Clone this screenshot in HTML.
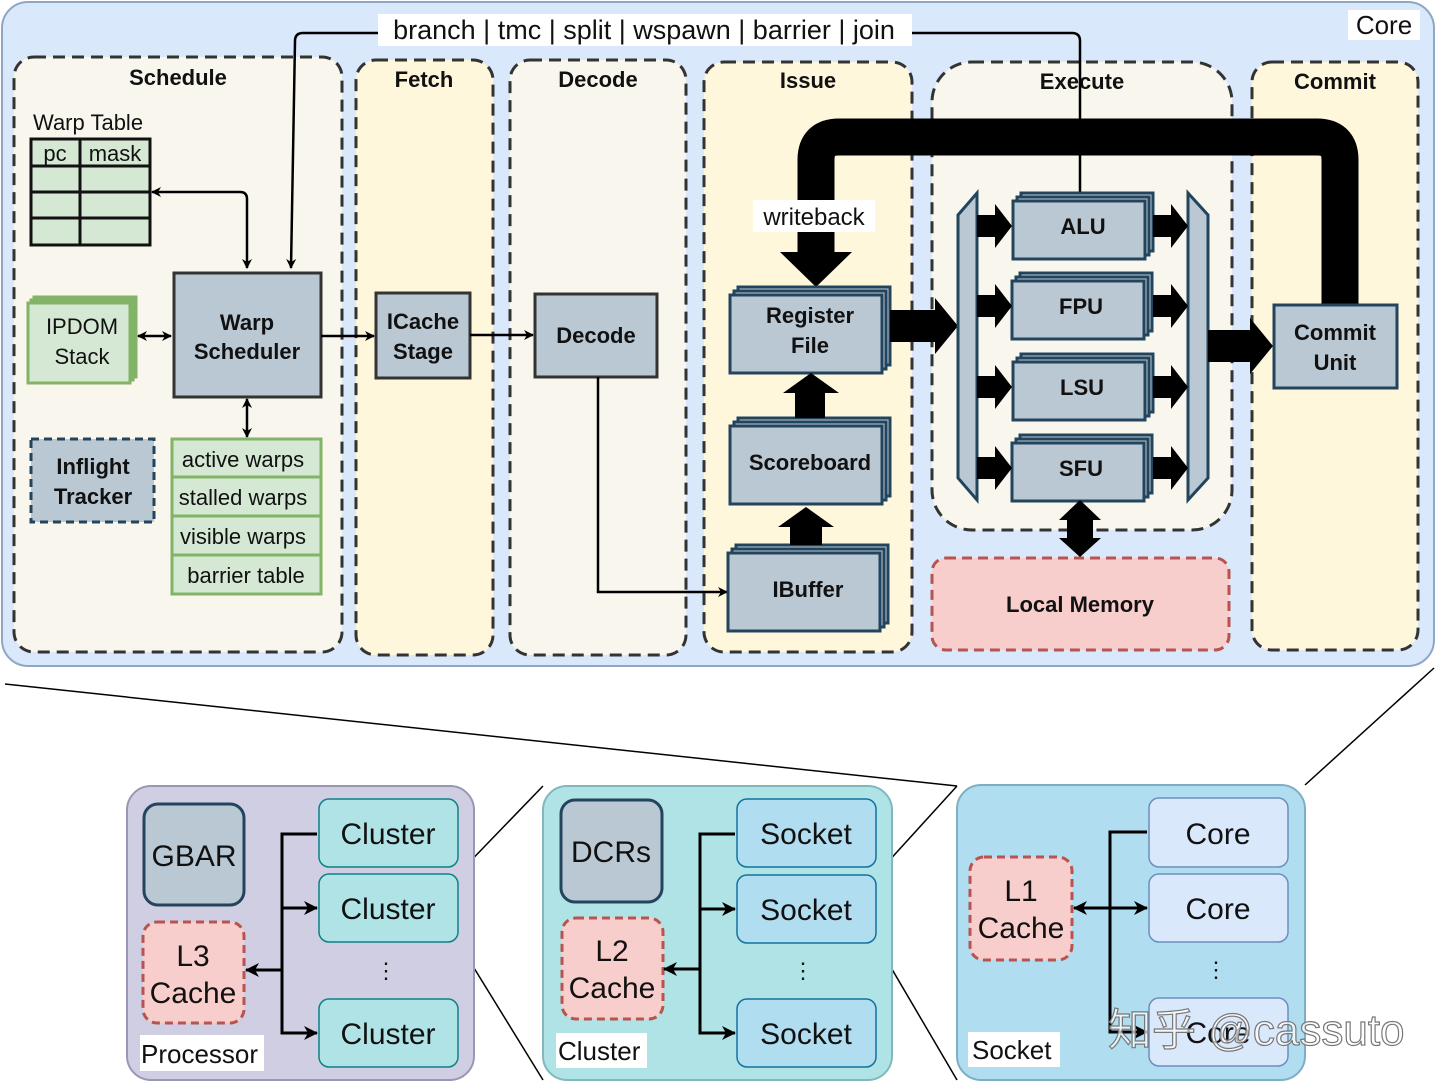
<!DOCTYPE html>
<html><head><meta charset="utf-8"><style>
html,body{margin:0;padding:0;background:#fff;}
svg{display:block;font-family:"Liberation Sans","Noto Sans CJK SC",sans-serif;}
.b{font-weight:bold;font-size:22px;fill:#111;}
.t{font-size:22px;fill:#111;}
.big{font-size:30px;fill:#111;}
</style></head><body>
<svg width="1440" height="1088" viewBox="0 0 1440 1088" xmlns="http://www.w3.org/2000/svg">
<defs>
<marker id="ah" markerWidth="10" markerHeight="10" refX="9" refY="5" orient="auto" markerUnits="userSpaceOnUse"><path d="M0,0 L10,5 L0,10 L3,5 z" fill="#000"/></marker>
<marker id="ahs" markerWidth="10" markerHeight="10" refX="1" refY="5" orient="auto" markerUnits="userSpaceOnUse"><path d="M10,0 L0,5 L10,10 L7,5 z" fill="#000"/></marker>
<marker id="bh" markerWidth="14" markerHeight="14" refX="13" refY="7" orient="auto" markerUnits="userSpaceOnUse"><path d="M0,0 L14,7 L0,14 L4,7 z" fill="#000"/></marker>
<marker id="bhs" markerWidth="14" markerHeight="14" refX="1" refY="7" orient="auto" markerUnits="userSpaceOnUse"><path d="M14,0 L0,7 L14,14 L10,7 z" fill="#000"/></marker>
</defs>
<!-- Core -->
<rect x="2" y="2" width="1432" height="664" rx="26" fill="#dae8fc" stroke="#8fa6c4" stroke-width="2"/>
<rect x="1348" y="10" width="72" height="30" fill="#fff"/>
<text x="1384" y="34" text-anchor="middle" style="font-size:26px" fill="#111">Core</text>

<!-- stages -->
<g stroke="#333" stroke-width="3" stroke-dasharray="12,7">
<rect x="14" y="57" width="328" height="595" rx="20" fill="#f9f7ed"/>
<rect x="356" y="60" width="137" height="595" rx="20" fill="#fff7dc"/>
<rect x="510" y="60" width="176" height="595" rx="20" fill="#f9f7ed"/>
<rect x="704" y="62" width="208" height="590" rx="20" fill="#fff7dc"/>
<rect x="932" y="62" width="300" height="468" rx="40" fill="#f9f7ed"/>
<rect x="1252" y="62" width="166" height="588" rx="20" fill="#fff7dc"/>
</g>
<g class="b" text-anchor="middle">
<text x="178" y="85">Schedule</text>
<text x="424" y="87">Fetch</text>
<text x="598" y="87">Decode</text>
<text x="808" y="88">Issue</text>
<text x="1082" y="89">Execute</text>
<text x="1335" y="89">Commit</text>
</g>

<!-- branch line -->
<path d="M378,33 L303,33 Q295,33 295,41 L291,268" fill="none" stroke="#000" stroke-width="2.5" marker-end="url(#ah)"/>
<path d="M912,33 L1072,33 Q1080,33 1080,41 L1080,193" fill="none" stroke="#000" stroke-width="2.5"/>
<rect x="378" y="14" width="534" height="32" fill="#fff"/>
<text x="644" y="39" style="font-size:27px" text-anchor="middle" fill="#111">branch | tmc | split | wspawn | barrier | join</text>

<!-- warp table -->
<text x="33" y="130" class="t">Warp Table</text>
<rect x="31" y="139" width="119" height="106" fill="#d5e8d4" stroke="#111" stroke-width="3"/>
<g stroke="#111" stroke-width="3">
<line x1="31" y1="166" x2="150" y2="166"/><line x1="31" y1="192" x2="150" y2="192"/><line x1="31" y1="218" x2="150" y2="218"/>
<line x1="80" y1="139" x2="80" y2="245"/>
</g>
<text x="55" y="161" class="t" text-anchor="middle">pc</text>
<text x="115" y="161" class="t" text-anchor="middle">mask</text>
<path d="M152,192 L240,192 Q247,192 247,199 L247,268" fill="none" stroke="#000" stroke-width="2.5" marker-start="url(#ahs)" marker-end="url(#ah)"/>

<!-- warp scheduler -->
<rect x="174" y="273" width="147" height="124" fill="#bac8d3" stroke="#333" stroke-width="3"/>
<text x="247" y="330" class="b" text-anchor="middle">Warp</text>
<text x="247" y="359" class="b" text-anchor="middle">Scheduler</text>

<!-- IPDOM -->
<g fill="#d5e8d4" stroke="#82b366" stroke-width="3">
<rect x="34" y="297" width="102" height="80"/>
<rect x="31" y="300" width="102" height="80"/>
<rect x="28" y="303" width="102" height="80"/>
</g>
<text x="82" y="334" class="t" text-anchor="middle">IPDOM</text>
<text x="82" y="364" class="t" text-anchor="middle">Stack</text>
<line x1="138" y1="336" x2="171" y2="336" stroke="#000" stroke-width="2.5" marker-start="url(#ahs)" marker-end="url(#ah)"/>
<line x1="321" y1="336" x2="374" y2="336" stroke="#000" stroke-width="2.5" marker-end="url(#ah)"/>
<line x1="247" y1="399" x2="247" y2="437" stroke="#000" stroke-width="2.5" marker-start="url(#ahs)" marker-end="url(#ah)"/>

<!-- status list -->
<g fill="#d5e8d4" stroke="#82b366" stroke-width="3">
<rect x="172" y="439" width="149" height="38"/><rect x="172" y="477" width="149" height="39"/>
<rect x="172" y="516" width="149" height="39"/><rect x="172" y="555" width="149" height="39"/>
</g>
<g class="t" text-anchor="middle">
<text x="243" y="467">active warps</text><text x="243" y="505">stalled warps</text>
<text x="243" y="544">visible warps</text><text x="246" y="583">barrier table</text>
</g>

<!-- inflight -->
<rect x="31" y="439" width="123" height="83" fill="#bac8d3" stroke="#23445d" stroke-width="3" stroke-dasharray="8,5"/>
<text x="93" y="474" class="b" text-anchor="middle">Inflight</text>
<text x="93" y="504" class="b" text-anchor="middle">Tracker</text>

<!-- icache -->
<rect x="376" y="293" width="94" height="85" fill="#bac8d3" stroke="#333" stroke-width="3"/>
<text x="423" y="329" class="b" text-anchor="middle">ICache</text>
<text x="423" y="359" class="b" text-anchor="middle">Stage</text>
<line x1="470" y1="335" x2="533" y2="335" stroke="#000" stroke-width="2.5" marker-end="url(#ah)"/>

<!-- decode -->
<rect x="535" y="294" width="122" height="83" fill="#bac8d3" stroke="#333" stroke-width="3"/>
<text x="596" y="343" class="b" text-anchor="middle">Decode</text>
<path d="M598,377 L598,592 L727,592" fill="none" stroke="#000" stroke-width="2.5" marker-end="url(#ah)"/>

<!-- writeback bus -->
<path d="M816,255 L816,160 Q816,137 839,137 L1317,137 Q1340,137 1340,160 L1340,304" fill="none" stroke="#000" stroke-width="37"/>
<polygon points="780,252 852,252 816,287" fill="#000"/>
<rect x="753" y="200" width="122" height="32" fill="#fff"/>
<text x="814" y="225" class="t" text-anchor="middle" style="font-size:24px">writeback</text>

<!-- issue stacked boxes -->
<g fill="#bac8d3" stroke="#23445d" stroke-width="3">
<rect x="738" y="287" width="152" height="78"/><rect x="734" y="291" width="152" height="78"/><rect x="730" y="295" width="152" height="78"/>
<rect x="738" y="418" width="152" height="78"/><rect x="734" y="422" width="152" height="78"/><rect x="730" y="426" width="152" height="78"/>
<rect x="736" y="545" width="152" height="78"/><rect x="732" y="549" width="152" height="78"/><rect x="728" y="553" width="152" height="78"/>
</g>
<g class="b" text-anchor="middle">
<text x="810" y="323">Register</text><text x="810" y="353">File</text>
<text x="810" y="470">Scoreboard</text>
<text x="808" y="597">IBuffer</text>
</g>
<polygon points="795,418 795,393 783,393 811,373 839,393 825,393 825,418" fill="#000"/>
<polygon points="790,545 790,527 778,527 806,507 834,527 822,527 822,545" fill="#000"/>

<!-- reg -> mux -->
<polygon points="890,310 935,310 935,298 958,326 935,354 935,342 890,342" fill="#000"/>

<!-- muxes -->
<polygon points="958,215 977,193 977,500 958,478" fill="#bac8d3" stroke="#23445d" stroke-width="3"/>
<polygon points="1188,193 1208,215 1208,478 1188,500" fill="#bac8d3" stroke="#23445d" stroke-width="3"/>

<!-- units -->
<g fill="#bac8d3" stroke="#23445d" stroke-width="3">
<rect x="1021" y="193" width="132" height="58"/><rect x="1017" y="197" width="132" height="58"/><rect x="1013" y="201" width="132" height="58"/>
<rect x="1020" y="273" width="132" height="58"/><rect x="1016" y="277" width="132" height="58"/><rect x="1012" y="281" width="132" height="58"/>
<rect x="1021" y="354" width="132" height="58"/><rect x="1017" y="358" width="132" height="58"/><rect x="1013" y="362" width="132" height="58"/>
<rect x="1020" y="435" width="132" height="58"/><rect x="1016" y="439" width="132" height="58"/><rect x="1012" y="443" width="132" height="58"/>
</g>
<g class="b" text-anchor="middle">
<text x="1083" y="234">ALU</text><text x="1081" y="314">FPU</text><text x="1082" y="395">LSU</text><text x="1081" y="476">SFU</text>
</g>
<g fill="#000">
<polygon points="977,215 995,215 995,204 1012,226 995,248 995,237 977,237"/>
<polygon points="977,295 995,295 995,284 1012,306 995,328 995,317 977,317"/>
<polygon points="977,376 995,376 995,365 1012,387 995,409 995,398 977,398"/>
<polygon points="977,457 995,457 995,446 1012,468 995,490 995,479 977,479"/>
<polygon points="1153,215 1171,215 1171,204 1188,226 1171,248 1171,237 1153,237"/>
<polygon points="1153,295 1171,295 1171,284 1188,306 1171,328 1171,317 1153,317"/>
<polygon points="1153,376 1171,376 1171,365 1188,387 1171,409 1171,398 1153,398"/>
<polygon points="1153,457 1171,457 1171,446 1188,468 1171,490 1171,479 1153,479"/>
</g>
<!-- mux -> commit -->
<polygon points="1208,330 1250,330 1250,318 1273,346 1250,374 1250,362 1208,362" fill="#000"/>
<rect x="1274" y="305" width="123" height="83" fill="#bac8d3" stroke="#23445d" stroke-width="3"/>
<text x="1335" y="340" class="b" text-anchor="middle">Commit</text>
<text x="1335" y="370" class="b" text-anchor="middle">Unit</text>

<!-- local memory -->
<rect x="932" y="558" width="297" height="92" rx="14" fill="#f8cecc" stroke="#b85450" stroke-width="3" stroke-dasharray="10,6"/>
<text x="1080" y="612" class="b" text-anchor="middle">Local Memory</text>
<polygon points="1080,500 1101,520 1093,520 1093,538 1101,538 1080,557 1059,538 1067,538 1067,520 1059,520" fill="#000"/>

<!-- zoom lines -->
<line x1="5" y1="684" x2="957" y2="786" stroke="#000" stroke-width="1.5"/>
<line x1="1434" y1="668" x2="1305" y2="785" stroke="#000" stroke-width="1.5"/>
<line x1="458" y1="874" x2="543" y2="786" stroke="#000" stroke-width="1.5"/>
<line x1="458" y1="942" x2="543" y2="1080" stroke="#000" stroke-width="1.5"/>
<line x1="876" y1="875" x2="957" y2="786" stroke="#000" stroke-width="1.5"/>
<line x1="876" y1="942" x2="957" y2="1080" stroke="#000" stroke-width="1.5"/>

<!-- Processor -->
<rect x="127" y="786" width="347" height="294" rx="24" fill="#d0cee2" stroke="#9a97b5" stroke-width="2"/>
<rect x="144" y="804" width="100" height="101" rx="14" fill="#bac8d3" stroke="#23445d" stroke-width="3"/>
<text x="194" y="866" class="big" text-anchor="middle">GBAR</text>
<rect x="143" y="922" width="101" height="101" rx="14" fill="#f8cecc" stroke="#b85450" stroke-width="3" stroke-dasharray="8,5"/>
<text x="193" y="966" class="big" text-anchor="middle">L3</text>
<text x="193" y="1003" class="big" text-anchor="middle">Cache</text>
<g fill="#b0e3e6" stroke="#0e8088" stroke-width="1.5">
<rect x="319" y="799" width="139" height="68" rx="10"/><rect x="319" y="874" width="139" height="68" rx="10"/><rect x="319" y="999" width="139" height="68" rx="10"/>
</g>
<g class="big" text-anchor="middle"><text x="388" y="844">Cluster</text><text x="388" y="919">Cluster</text><text x="388" y="1044">Cluster</text></g>
<text x="386" y="978" class="t" text-anchor="middle">⋮</text>
<g stroke="#000" stroke-width="3" fill="none">
<path d="M317,834 L282,834 L282,1033 L317,1033" marker-end="url(#bh)"/>
<line x1="282" y1="908" x2="317" y2="908" marker-end="url(#bh)"/>
<line x1="282" y1="970" x2="246" y2="970" marker-end="url(#bh)"/>
</g>
<rect x="140" y="1035" width="124" height="36" fill="#fff"/>
<text x="141" y="1063" style="font-size:26px" fill="#111">Processor</text>

<!-- Cluster -->
<rect x="543" y="786" width="349" height="294" rx="24" fill="#b0e3e6" stroke="#7fb9bd" stroke-width="2"/>
<rect x="561" y="800" width="101" height="102" rx="14" fill="#bac8d3" stroke="#23445d" stroke-width="3"/>
<text x="611" y="862" class="big" text-anchor="middle">DCRs</text>
<rect x="562" y="918" width="101" height="101" rx="14" fill="#f8cecc" stroke="#b85450" stroke-width="3" stroke-dasharray="8,5"/>
<text x="612" y="961" class="big" text-anchor="middle">L2</text>
<text x="612" y="998" class="big" text-anchor="middle">Cache</text>
<g fill="#b1ddf0" stroke="#10739e" stroke-width="1.5">
<rect x="737" y="799" width="139" height="68" rx="10"/><rect x="737" y="875" width="139" height="68" rx="10"/><rect x="737" y="999" width="139" height="68" rx="10"/>
</g>
<g class="big" text-anchor="middle"><text x="806" y="844">Socket</text><text x="806" y="920">Socket</text><text x="806" y="1044">Socket</text></g>
<text x="803" y="978" class="t" text-anchor="middle">⋮</text>
<g stroke="#000" stroke-width="3" fill="none">
<path d="M735,834 L700,834 L700,1033 L735,1033" marker-end="url(#bh)"/>
<line x1="700" y1="909" x2="735" y2="909" marker-end="url(#bh)"/>
<line x1="700" y1="969" x2="664" y2="969" marker-end="url(#bh)"/>
</g>
<rect x="556" y="1033" width="91" height="35" fill="#fff"/>
<text x="558" y="1060" style="font-size:26px" fill="#111">Cluster</text>

<!-- Socket -->
<rect x="957" y="785" width="348" height="295" rx="24" fill="#b1ddf0" stroke="#7eaec4" stroke-width="2"/>
<rect x="970" y="857" width="102" height="103" rx="14" fill="#f8cecc" stroke="#b85450" stroke-width="3" stroke-dasharray="8,5"/>
<text x="1021" y="901" class="big" text-anchor="middle">L1</text>
<text x="1021" y="938" class="big" text-anchor="middle">Cache</text>
<g fill="#dae8fc" stroke="#6c8ebf" stroke-width="1.5">
<rect x="1149" y="798" width="139" height="69" rx="10"/><rect x="1149" y="874" width="139" height="68" rx="10"/><rect x="1149" y="998" width="139" height="68" rx="10"/>
</g>
<g class="big" text-anchor="middle"><text x="1218" y="844">Core</text><text x="1218" y="919">Core</text><text x="1218" y="1043">Core</text></g>
<text x="1216" y="977" class="t" text-anchor="middle">⋮</text>
<g stroke="#000" stroke-width="3" fill="none">
<path d="M1147,832 L1110,832 L1110,1032 L1147,1032" marker-end="url(#bh)"/>
<line x1="1074" y1="908" x2="1147" y2="908" marker-start="url(#bhs)" marker-end="url(#bh)"/>
</g>
<rect x="968" y="1032" width="92" height="35" fill="#fff"/>
<text x="972" y="1059" style="font-size:26px" fill="#111">Socket</text>

<!-- watermark -->
<text x="1108" y="1045" style="font-size:44px" fill="#fff" fill-opacity="0.7" stroke="#777" stroke-width="1.2">知乎 @cassuto</text>
</svg>
</body></html>
